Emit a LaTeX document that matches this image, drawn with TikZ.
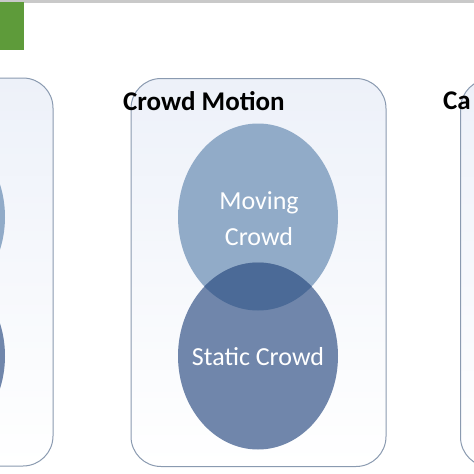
\documentclass[tikz,border=0pt]{standalone}
\usepackage{fontspec}
\setmainfont{Carlito}
\usetikzlibrary{shapes.geometric}

\definecolor{topgray}{HTML}{C9C9C9}
\definecolor{tabgreen}{HTML}{5E9B3A}
\definecolor{panelline}{HTML}{8A9AB0}
\definecolor{paneltop}{HTML}{EDF1F9}
\definecolor{movefill}{HTML}{91ABC8}
\definecolor{staticfill}{HTML}{7086AB}
\definecolor{overlapfill}{HTML}{4B6A97}

\begin{document}
\begin{tikzpicture}[x=1pt,y=-1pt,
  panel/.style={draw=panelline, line width=1pt, rounded corners=30pt,
    top color=paneltop, bottom color=white,
    minimum width=255pt, minimum height=388pt, inner sep=0pt},
  blob/.style={ellipse, minimum width=160pt, minimum height=187pt, inner sep=0pt},
  blobtext/.style={text=white, align=center, font=\fontsize{26}{36}\selectfont},
  title/.style={inner sep=0pt, font=\bfseries\fontsize{27}{32}\selectfont}]

\useasboundingbox (0,0) rectangle (474,474);
\clip (0,0) rectangle (474,474);

% Strip along the top
\fill[topgray] (0,0) rectangle (474,3);
\fill[tabgreen] (0,2) rectangle (24,50);

% Panels
\node[panel] (leftbox) at (-74.5,272) {};
\node[panel] (midbox) at (258.5,272.5) {};
\node[panel] (rightbox) at (588,273) {};

% Left panel, cut off by the edge
\node[blob, fill=movefill] (leftmove) at (-75,217) {};
\node[blob, fill=staticfill] (leftstatic) at (-75,356) {};
\begin{scope}
  \clip (leftmove.center) ellipse [x radius=80, y radius=93.5];
  \fill[overlapfill] (leftstatic.center) ellipse [x radius=80, y radius=93.5];
\end{scope}

% Crowd motion
\node[title, anchor=west] (motiontitle) at (123,101) {Crowd Motion};
\node[blob, fill=movefill] (moving) at (258,217) {};
\node[blob, fill=staticfill] (static) at (258,356) {};
\begin{scope}
  \clip (moving.center) ellipse [x radius=80, y radius=93.5];
  \fill[overlapfill] (static.center) ellipse [x radius=80, y radius=93.5];
\end{scope}
\node[blobtext] (movinglabel) at (259,219) {Moving\\Crowd};
\node[blobtext] (staticlabel) at (258,357) {Static Crowd};

% Right panel title
\node[title, anchor=west] (cattitle) at (443,101) {Ca};

\end{tikzpicture}
\end{document}
